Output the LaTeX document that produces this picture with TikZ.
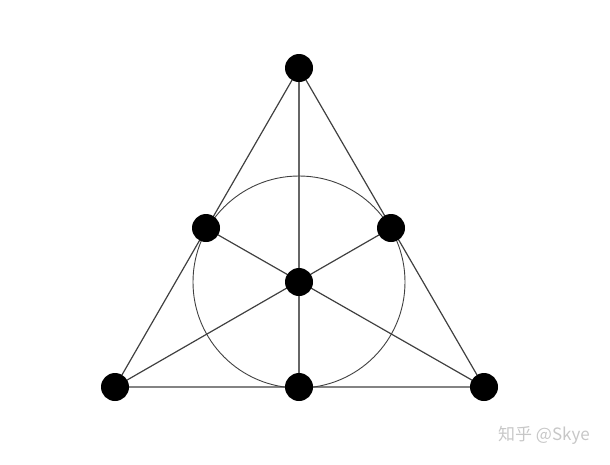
\documentclass[tikz,border=0pt]{standalone}
\usepackage{fontspec}
\newfontfamily\cjk{Noto Sans CJK SC}
\begin{document}
\begin{tikzpicture}[x=1pt,y=-1pt,
  edge/.style={draw=black!75,line width=1.2pt},
  pt/.style={circle,fill=black,inner sep=0pt,minimum size=28pt}]
\useasboundingbox (0,0) rectangle (610,464);
\coordinate (T) at (299,68);
\coordinate (L) at (206,228);
\coordinate (R) at (391,228);
\coordinate (C) at (299,282);
\coordinate (BL) at (115,387);
\coordinate (BM) at (299,387);
\coordinate (BR) at (484,387);
\draw[edge] (T) -- (BL) -- (BR) -- cycle;
\draw[edge,draw=black!60,line width=1.6pt] (T) -- (BM);
\draw[edge] (L) -- (BR);
\draw[edge] (R) -- (BL);
\draw[edge,line width=0.9pt] (C) circle (106);
\foreach \n in {T,L,R,C,BL,BM,BR} \node[pt] (n\n) at (\n) {};
\node[text=black!22,font=\cjk\fontsize{17}{19}\selectfont,anchor=center] (wm) at (544,435) {知乎 @Skye};
\end{tikzpicture}
\end{document}
